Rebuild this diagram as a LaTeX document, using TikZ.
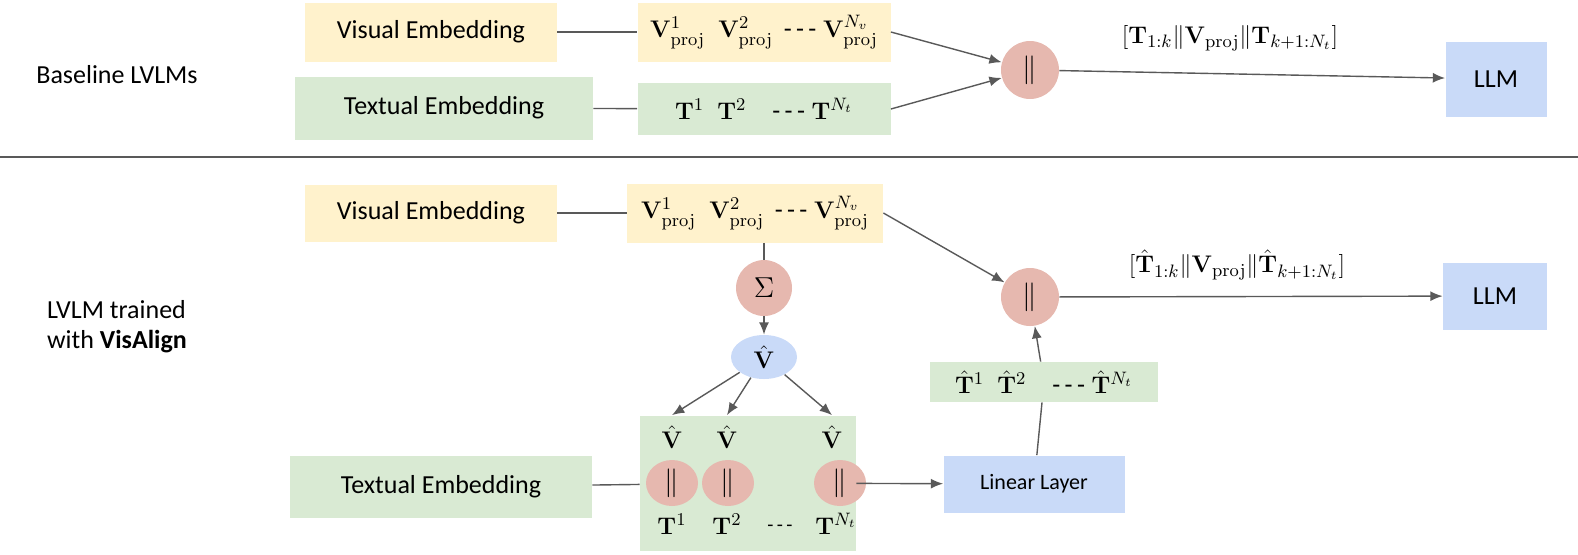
\documentclass[tikz,border=0pt]{standalone}
\usepackage{amsmath,amssymb}
\usepackage[no-math]{fontspec}
\setmainfont{Carlito}
\usetikzlibrary{arrows.meta,shapes.geometric}
\definecolor{vyel}{HTML}{FFF2CC}
\definecolor{tgrn}{HTML}{D9EAD3}
\definecolor{lblu}{HTML}{C9DAF8}
\definecolor{cred}{HTML}{E6B8AF}
\definecolor{lgry}{HTML}{595959}
\tikzset{
  box/.style={rectangle,inner sep=0pt,font=\fontsize{13}{15}\selectfont},
  op/.style={circle,fill=cred,minimum size=29pt,inner sep=0pt,font=\Large},
  cat/.style={ellipse,fill=cred,minimum width=26pt,minimum height=23pt,inner sep=0pt,font=\Large},
  mt/.style={font=\fontsize{13}{15}\selectfont},
}
\newcommand{\vp}[1]{\mathbf{V}^{#1}_{\mathrm{proj}}}
\newcommand{\dsh}{\text{-\,-\,-}}
\begin{document}
\begin{tikzpicture}[x=0.5pt,y=-0.5pt]
    \useasboundingbox (0,0) rectangle (1578,554);
    % baseline
    \path
    (117,75) node[font=\fontsize{13}{15}\selectfont](BL) {Baseline LVLMs}
    (431,32) node[box,fill=vyel,minimum width=126pt,minimum height=29.5pt](VE) {Visual Embedding}
    (764,32) node[box,fill=vyel,minimum width=126.5pt,minimum height=29.5pt](VP) {$\vp{1}\;\;\vp{2}\;\,\dsh\;\vp{N_v}$}
    (444,108) node[box,fill=tgrn,minimum width=149pt,minimum height=31.5pt](TE) {Textual Embedding}
    (764,109) node[box,fill=tgrn,minimum width=126.5pt,minimum height=26pt](TT) {$\mathbf{T}^1\;\;\mathbf{T}^2\quad\dsh\;\mathbf{T}^{N_t}$}
    (1030,70) node[op](CA) {$\|$}
    (1496,79) node[box,fill=lblu,minimum width=50.5pt,minimum height=37.5pt](LA) {LLM}
    (1230,38) node[mt](LBA) {$[\mathbf{T}_{1:k}\|\mathbf{V}_{\mathrm{proj}}\|\mathbf{T}_{k+1:N_t}]$};
    \draw[lgry,line width=0.6pt] (0,157) -- (1578,157);
    % visalign
    \path
    (117,327) node[font=\fontsize{13}{15}\selectfont,align=left](VL) {LVLM trained\\with \textbf{VisAlign}}
    (431,213) node[box,fill=vyel,minimum width=126pt,minimum height=28.5pt](VE2) {Visual Embedding}
    (755,213) node[box,fill=vyel,minimum width=128pt,minimum height=29.5pt](VP2) {$\vp{1}\;\;\vp{2}\;\,\dsh\;\vp{N_v}$}
    (764,288) node[op,minimum size=28pt](SU) {$\Sigma$}
    (764,357) node[ellipse,fill=lblu,minimum width=33pt,minimum height=22pt,inner sep=0pt,mt](VH) {$\hat{\mathbf{V}}$}
    (748,483) node[box,fill=tgrn,minimum width=108pt,minimum height=67.5pt](BB) {}
    (672,437) node[mt](VH1) {$\hat{\mathbf{V}}$}
    (727,437) node[mt](VH2) {$\hat{\mathbf{V}}$}
    (832,437) node[mt](VH3) {$\hat{\mathbf{V}}$}
    (672,483) node[cat](C1) {$\|$}
    (728,483) node[cat](C2) {$\|$}
    (840,483) node[cat](C3) {$\|$}
    (672,524) node[mt](T1) {$\mathbf{T}^1$}
    (727,524) node[mt](T2) {$\mathbf{T}^2$}
    (780,528) node(DT) {\dsh}
    (836,524) node[mt](T3) {$\mathbf{T}^{N_t}$}
    (441,487) node[box,fill=tgrn,minimum width=151pt,minimum height=31pt](TE2) {Textual Embedding}
    (1034,484) node[box,fill=lblu,minimum width=90.5pt,minimum height=28.5pt,font=\fontsize{11}{13}\selectfont](LL) {Linear Layer}
    (1044,382) node[box,fill=tgrn,minimum width=114pt,minimum height=20pt](TH) {$\hat{\mathbf{T}}^1\;\;\hat{\mathbf{T}}^2\quad\dsh\;\hat{\mathbf{T}}^{N_t}$}
    (1030,297) node[op](CB) {$\|$}
    (1495,296) node[box,fill=lblu,minimum width=52pt,minimum height=33.5pt](LB) {LLM}
    (1237,265) node[mt](LBB) {$[\hat{\mathbf{T}}_{1:k}\|\mathbf{V}_{\mathrm{proj}}\|\hat{\mathbf{T}}_{k+1:N_t}]$};

    \path[lgry,line width=0.7pt]
    (VE) edge[-] (VP)
    (TE) edge[-] (TT)
    (VP.east) edge[-{Latex[width=5]}] (CA)
    (TT.east) edge[-{Latex[width=5]}] (CA)
    (CA) edge[-{Latex[width=5]}] (LA)
    (VE2) edge[-] (VP2)
    (VP2.south -| SU) edge[-] (SU)
    (SU) edge[-{Latex[width=5]}] (VH)
    (VH) edge[-{Latex[width=5]}] (BB.north -| VH1)
    (VH) edge[-{Latex[width=5]}] (BB.north -| VH2)
    (VH) edge[-{Latex[width=5]}] (BB.north -| VH3)
    (TE2) edge[-] (BB)
    (BB) edge[-{Latex[width=5]}] (LL)
    (LL) edge[-] (TH)
    (TH) edge[-{Latex[width=5]}] (CB)
    (VP2.east) edge[-{Latex[width=5]}] (CB)
    (CB) edge[-{Latex[width=5]}] (LB)
    ;
\end{tikzpicture}
\end{document}
